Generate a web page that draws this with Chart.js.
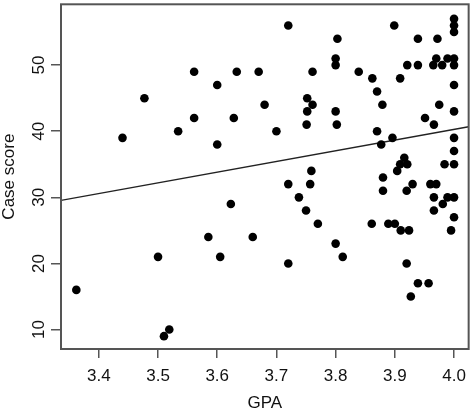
<!DOCTYPE html>
<html>
<head>
<meta charset="utf-8">
<script src="https://cdn.jsdelivr.net/npm/chart.js@4/dist/chart.umd.min.js"></script>
<style>
  html, body { margin: 0; padding: 0; background: #fff; }
  #wrap { width: 474px; height: 412px; position: relative; }
</style>
</head>
<body>
<div id="wrap"><canvas id="c" width="474" height="412"></canvas></div>
<script>
// ---- data ----
const gpa = [
  3.362, 3.440, 3.477, 3.500, 3.510, 3.519, 3.534, 3.561, 3.561, 3.585,
  3.600, 3.600, 3.605, 3.623, 3.628, 3.633, 3.660, 3.670, 3.680, 3.700,
  3.720, 3.720, 3.720, 3.738, 3.750, 3.751, 3.752, 3.752, 3.757, 3.759,
  3.761, 3.761, 3.770, 3.800, 3.800, 3.800, 3.802, 3.800, 3.803, 3.812,
  3.839, 3.861, 3.862, 3.870, 3.870, 3.877, 3.879, 3.880, 3.880, 3.889,
  3.896, 3.899, 3.900, 3.904, 3.909, 3.909, 3.910, 3.916, 3.920, 3.920,
  3.921, 3.921, 3.924, 3.927, 3.930, 3.939, 3.939, 3.939, 3.951, 3.957,
  3.960, 3.965, 3.966, 3.966, 3.966, 3.970, 3.970, 3.972, 3.975, 3.980,
  3.981, 3.984, 3.989, 3.989, 3.995,
  4.0, 4.0, 4.0, 4.0, 4.0, 4.0, 4.0, 4.0, 4.0, 4.0, 4.0, 4.0
];
const caseScore = [
  16, 39, 45, 21, 9, 10, 40, 49, 42, 24,
  47, 38, 21, 29, 42, 49, 24, 49, 44, 40,
  56, 32, 20, 30, 28, 41, 45, 43, 32, 34,
  49, 44, 26, 51, 50, 43, 41, 23, 54, 21,
  49, 26, 48, 40, 46, 38, 44, 33, 31, 26,
  39, 56, 26, 34, 48, 35, 25, 36, 20, 31,
  35, 50, 25, 15, 32, 54, 50, 17, 42, 17,
  32, 50, 41, 30, 28, 51, 32, 54, 44, 50,
  29, 35, 30, 51, 25,
  57, 56, 55, 51, 50, 47, 43, 39, 37, 35, 30, 27
];
// fitted line end points
const fitX = [3.3361, 4.0247];
const fitY = [29.54, 40.67];
// tick labels
const xTicks = [3.4, 3.5, 3.6, 3.7, 3.8, 3.9, 4.0];
const yTicks = [10, 20, 30, 40, 50];
const xTitle = 'GPA';
const yTitle = 'Case score';

const FONT = '"Liberation Sans", Arial, Helvetica, sans-serif';
const AXIS_COLOR = '#555';

const points = gpa.map((g, i) => ({ x: g, y: caseScore[i] }));
const fitLine = fitX.map((x, i) => ({ x: x, y: fitY[i] }));

const boxPlugin = {
  id: 'boxAndYLabels',
  afterDraw(chart) {
    const { ctx, chartArea: a, scales } = chart;
    ctx.save();
    ctx.strokeStyle = AXIS_COLOR;
    ctx.lineWidth = 2;
    ctx.strokeRect(a.left, a.top, a.right - a.left, a.bottom - a.top);
    // rotated y tick labels (R style)
    ctx.fillStyle = '#111';
    ctx.font = '17px ' + FONT;
    ctx.textAlign = 'center';
    ctx.textBaseline = 'alphabetic';
    yTicks.forEach(v => {
      const py = scales.y.getPixelForValue(v);
      ctx.save();
      ctx.translate(43.5, py);
      ctx.rotate(-Math.PI / 2);
      ctx.fillText(String(v), 0, 0);
      ctx.restore();
    });
    ctx.restore();
  }
};

new Chart(document.getElementById('c'), {
  type: 'scatter',
  data: {
    datasets: [
      {
        label: 'Case score',
        data: points,
        backgroundColor: '#000',
        borderColor: '#000',
        borderWidth: 0,
        pointRadius: 4.3,
        pointHoverRadius: 4.3,
        order: 1
      },
      {
        type: 'line',
        label: 'Fit',
        data: fitLine,
        borderColor: '#222',
        borderWidth: 1.4,
        pointRadius: 0,
        fill: false,
        order: 2
      }
    ]
  },
  options: {
    responsive: false,
    animation: false,
    devicePixelRatio: 1,
    layout: { padding: { top: 1, right: 3, left: 0, bottom: 0 } },
    plugins: { legend: { display: false }, tooltip: { enabled: false } },
    scales: {
      x: {
        type: 'linear',
        min: fitX[0],
        max: fitX[1],
        afterBuildTicks: s => { s.ticks = xTicks.map(v => ({ value: v })); },
        afterFit: s => { s.height = 63; },
        grid: { display: true, drawOnChartArea: false, drawTicks: true, tickLength: 9, color: AXIS_COLOR, lineWidth: 1.5 },
        border: { display: false },
        ticks: {
          color: '#111',
          font: { family: FONT, size: 17, lineHeight: 1.2 },
          padding: 8,
          maxRotation: 0,
          autoSkip: false,
          callback: v => Number(v).toFixed(1)
        },
        title: {
          display: true,
          text: xTitle,
          color: '#111',
          font: { family: FONT, size: 17, lineHeight: 1 },
          padding: { top: 0, bottom: 0 }
        }
      },
      y: {
        type: 'linear',
        min: 7.06,
        max: 59.2,
        afterBuildTicks: s => { s.ticks = yTicks.map(v => ({ value: v })); },
        afterFit: s => { s.width = 61; },
        grid: { display: true, drawOnChartArea: false, drawTicks: true, tickLength: 10, color: AXIS_COLOR, lineWidth: 1.5 },
        border: { display: false },
        ticks: { display: false },
        title: {
          display: true,
          text: yTitle,
          color: '#111',
          font: { family: FONT, size: 17, lineHeight: 1 },
          padding: { top: 1, bottom: 0 }
        }
      }
    }
  },
  plugins: [boxPlugin]
});
</script>
</body>
</html>
